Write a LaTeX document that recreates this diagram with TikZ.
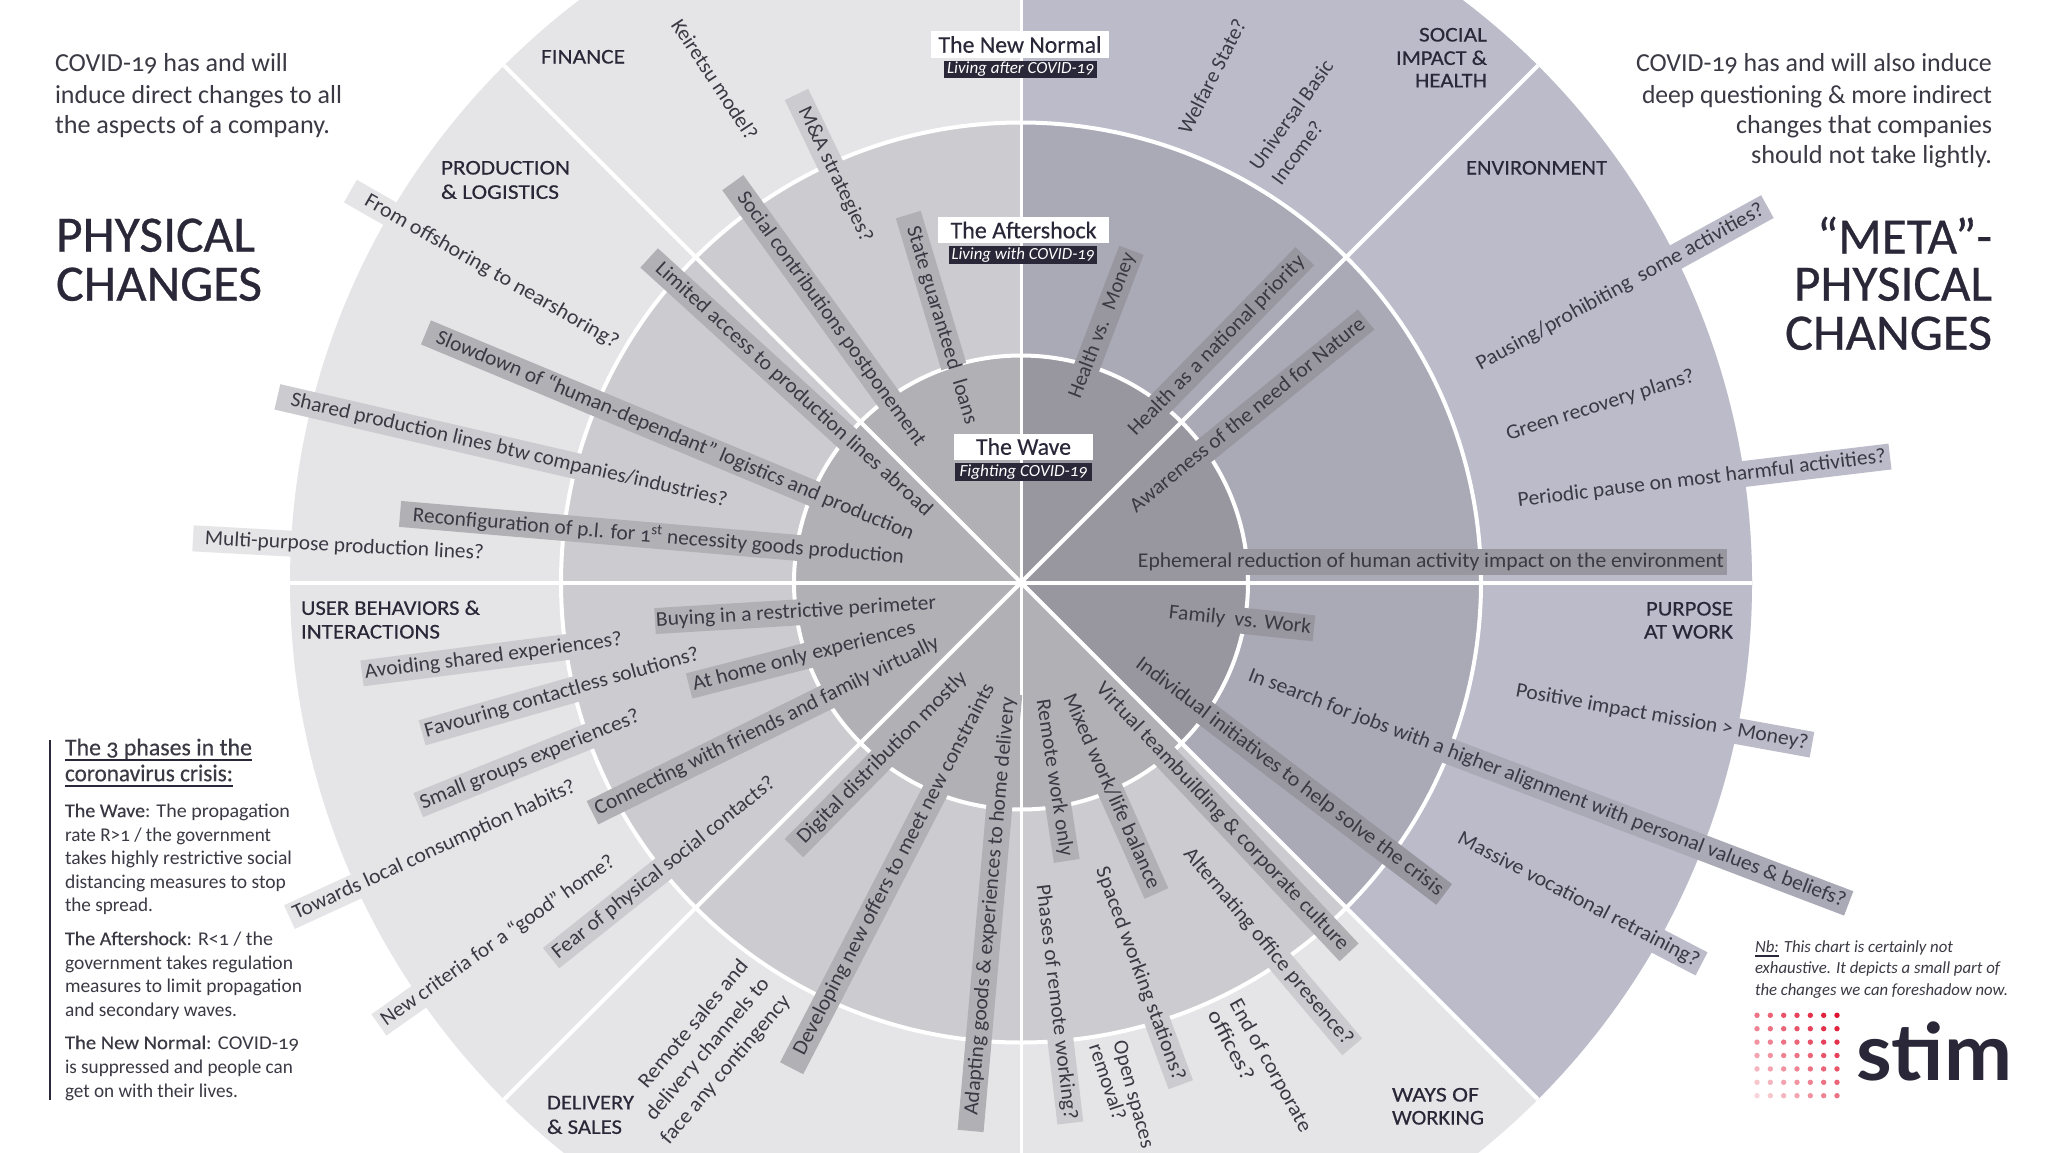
\documentclass[tikz,border=0pt]{standalone}
\usepackage{graphicx}
\usepackage{fontspec}
\setmainfont[Numbers=OldStyle]{Carlito}
\newfontfamily\medfont[Numbers=OldStyle,FakeBold=0.35]{Carlito}
\newfontfamily\bigfont[Numbers=OldStyle,FakeBold=0.6]{Carlito}
\newfontfamily\logofont{Lato}
\definecolor{ink}{HTML}{2A2838}
\definecolor{txt}{HTML}{3A3944}
\definecolor{go}{HTML}{E5E5E7}
\definecolor{gm}{HTML}{CCCCD0}
\definecolor{gi}{HTML}{B0B0B5}
\definecolor{po}{HTML}{BCBBCA}
\definecolor{pm}{HTML}{AAA9B6}
\definecolor{pi}{HTML}{98979F}
\definecolor{stimred}{HTML}{E0102F}
\pgfdeclarelayer{txtlayer}
\pgfsetlayers{main,txtlayer}
\tikzset{
  barbox/.style={inner sep=0pt,outer sep=0pt,minimum height=26pt},
  lbl/.style={inner sep=0pt,outer sep=0pt,text=txt,font=\fontsize{21}{21}\selectfont},
  head/.style={inner sep=0pt,outer sep=0pt,yshift=-1.5pt,text=ink,font=\medfont\fontsize{21}{21}\selectfont},
  big/.style={inner sep=0pt,outer sep=0pt,yshift=-3.5pt,text=ink,font=\bigfont\fontsize{51}{51}\selectfont},
  intro/.style={inner sep=0pt,outer sep=0pt,yshift=-2pt,text=txt,font=\fontsize{26}{26}\selectfont},
  body/.style={inner sep=0pt,outer sep=0pt,text=txt,font=\fontsize{19.5}{19.5}\selectfont},
  note/.style={inner sep=0pt,outer sep=0pt,yshift=-1pt,text=txt,font=\itshape\fontsize{17}{17}\selectfont},
  phase/.style={fill=white,text=ink,inner sep=0pt,outer sep=0pt,font=\medfont\fontsize{24}{24}\selectfont},
  sub/.style={fill=ink,text=white,inner sep=0pt,outer sep=0pt,font=\itshape\fontsize{17}{17}\selectfont},
  sep/.style={draw=white,line width=4pt},
}
% name, x1,y1, x2,y2, pad start, pad end, colour, text
\newcommand\lab[9]{%
  \pgfmathsetmacro\lLen{veclen(#4-#2,#5-#3)}%
  \pgfmathsetmacro\lAng{atan2(-(#5-#3),#4-#2)}%
  \pgfmathsetmacro\lBar{\lLen+#6+#7}%
  \pgfmathsetmacro\lBx{(#2+#4)/2+(#7-#6)/2*(#4-#2)/\lLen}%
  \pgfmathsetmacro\lBy{(#3+#5)/2+(#7-#6)/2*(#5-#3)/\lLen}%
  \pgfmathsetmacro\lCx{(#2+#4)/2}%
  \pgfmathsetmacro\lCy{(#3+#5)/2}%
  \node[barbox,fill=#8,minimum width=\lBar pt,rotate=\lAng] (#1-bar) at (\lBx,\lBy) {};%
  \begin{pgfonlayer}{txtlayer}%
  \node[lbl,rotate=\lAng] (#1) at (\lCx,\lCy) {\resizebox{\lLen pt}{\height}{\vphantom{Ag}#9}};%
  \end{pgfonlayer}%
}
% style, name, anchor, x, y, width, text
\newcommand\tx[7]{\node[#1,anchor=#3] (#2) at (#4,#5) {\resizebox{#6pt}{\height}{\vphantom{Ag}#7}};}
\begin{document}
\begin{tikzpicture}[x=1pt,y=-1pt]
\useasboundingbox (0,0) rectangle (2048,1152);
\fill[white] (0,0) rectangle (2048,1152);
\coordinate (c) at (1021,582.5);
\begin{scope}
\clip (0,0) rectangle (2048,1152);
\fill[go] (c) circle[radius=731pt];
\fill[po] (c) -- ++(-45:731pt) arc[start angle=-45,end angle=90,radius=731pt] -- cycle;
\fill[gm] (c) circle[radius=460pt];
\fill[pm] (c) -- ++(-45:460pt) arc[start angle=-45,end angle=90,radius=460pt] -- cycle;
\fill[gi] (c) circle[radius=227pt];
\fill[pi] (c) -- ++(-45:227pt) arc[start angle=-45,end angle=90,radius=227pt] -- cycle;
\draw[sep] (c) circle[radius=227pt];
\draw[sep] (c) circle[radius=460pt];
\foreach \a in {0,45,135,180,225,315}{\draw[sep] (c) -- ++(\a:731pt);}
\draw[draw=white,line width=3pt] (c) -- ++(90:731pt);
\draw[draw=white,line width=3pt] (c) -- ++(270:731pt);
\end{scope}

% upper left
\lab{kei}{675}{22}{752}{139}{5}{5}{go}{Keiretsu model?}
\lab{ma}{803}{108}{867}{241}{15}{2}{gm}{M\&A strategies?}
\lab{soc}{741}{194}{921}{444}{14}{-52}{gi}{Social contributions postponement}
\lab{state}{912}{227}{971}{424}{13}{-60}{gi}{State guaranteed\hspace{0.3em} loans}
\lab{lim}{658}{266}{929}{513}{12}{4}{gi}{Limited access to production lines abroad}
\lab{slow}{437}{337}{913}{535}{12}{4}{gi}{Slowdown of “human-dependant” logistics and production}
\lab{shared}{291}{400}{727}{501}{14}{3}{gm}{Shared production lines btw companies/industries?}
\lab{recon}{413}{515}{904}{557}{13}{4}{gi}{Reconfiguration of p.l. for 1\textsuperscript{st} necessity goods production}
\lab{multi}{205}{539}{484}{554}{12}{3}{go}{Multi-purpose production lines?}
\lab{off}{366}{200}{617}{344}{18}{3}{go}{From offshoring to nearshoring?}

% upper right
\lab{welf}{1185}{133}{1242}{21}{3}{3}{none}{Welfare State?}
\lab{ubi}{1255}{168}{1330}{63}{3}{3}{none}{Universal Basic}
\lab{ubb}{1277}{183}{1320}{124}{3}{3}{none}{Income?}
\lab{hm}{1075}{398}{1130}{254}{3}{4}{pi}{Health vs.\hspace{0.3em} Money}
\lab{hn}{1132}{433}{1302}{259}{3}{4}{pi}{Health as a national priority}
\lab{aw}{1133}{509}{1363}{322}{3}{4}{pi}{Awareness of the need for Nature}
\lab{eph}{1138}{562}{1724}{562}{4}{3}{pi}{Ephemeral reduction of human activity impact on the environment}
\lab{paus}{1478}{366}{1763}{209}{3}{5}{po}{Pausing/prohibiting\hspace{0.2em} some activities?}
\lab{green}{1507}{435}{1694}{376}{3}{4}{po}{Green recovery plans?}
\lab{per}{1518}{501}{1886}{457}{3}{4}{po}{Periodic pause on most harmful activities?}

% lower right
\lab{fam}{1169}{613}{1311}{628}{3}{3}{pi}{Family\hspace{0.2em} vs. Work}
\lab{search}{1249}{675}{1845}{902}{3}{4}{pm}{In search for jobs with a higher alignment with personal values \& beliefs?}
\lab{ind}{1138}{662}{1441}{892}{3}{4}{pi}{Individual initiatives to help solve the crisis}
\lab{pos}{1516}{691}{1808}{744}{3}{4}{po}{Positive impact mission > Money?}
\lab{mass}{1459}{838}{1698}{962}{3}{4}{po}{Massive vocational retraining?}
\lab{virt}{1099}{686}{1345}{948}{3}{6}{gi}{Virtual teambuilding \& corporate culture}
\lab{mix}{1068}{695}{1154}{888}{3}{6}{gi}{Mixed work/life balance}
\lab{rem}{1042}{700}{1066}{856}{3}{5}{gi}{Remote work only}
\lab{phas}{1042}{885}{1070}{1120}{3}{3}{gm}{Phases of remote working?}
\lab{spac}{1101}{868}{1179}{1080}{3}{5}{gm}{Spaced working stations?}
\lab{alt}{1187}{851}{1349}{1043}{3}{5}{gm}{Alternating office presence?}
\lab{endc}{1234}{1001}{1306}{1131}{3}{3}{none}{End of corporate}
\lab{endo}{1212}{1012}{1248}{1080}{3}{3}{none}{offices?}
\lab{opena}{1118}{1041}{1147}{1148}{3}{3}{none}{Open spaces}
\lab{openb}{1094}{1045}{1119}{1120}{3}{3}{none}{removal?}

% lower left
\lab{buy}{656}{621}{936}{604}{1}{3}{gi}{Buying in a restrictive perimeter}
\lab{avo}{365}{673}{622}{640}{3}{3}{gm}{Avoiding shared experiences?}
\lab{fav}{425}{732}{699}{654}{3}{3}{gm}{Favouring contactless solutions?}
\lab{home}{693}{685}{915}{628}{4}{3}{gi}{At home only experiences}
\lab{small}{421}{804}{639}{716}{3}{3}{gm}{Small groups experiences?}
\lab{conn}{596}{811}{938}{642}{4}{3}{gi}{Connecting with friends and family virtually}
\lab{tow}{294}{915}{575}{786}{5}{3}{go}{Towards local consumption habits?}
\lab{fear}{555}{955}{773}{781}{5}{3}{gm}{Fear of physical social contacts?}
\lab{crit}{383}{1022}{613}{860}{5}{3}{go}{New criteria for a “good” home?}
\lab{dig}{801}{841}{964}{675}{10}{3}{gi}{Digital distribution mostly}
\lab{dev}{799}{1054}{990}{685}{16}{3}{gi}{Developing new offers to meet new constraints}
\lab{ada}{972}{1115}{1009}{697}{16}{3}{gi}{Adapting goods \& experiences to home delivery}
\lab{rsa}{643}{1086}{745}{963}{3}{3}{none}{Remote sales and}
\lab{rsb}{650}{1118}{766}{981}{3}{3}{none}{delivery channels to}
\lab{rsc}{665}{1142}{787}{998}{3}{3}{none}{face any contingency}

% sector titles
\tx{head}{sfin}{west}{541}{57}{84}{FINANCE}
\tx{head}{spa}{west}{441}{168}{129}{PRODUCTION}
\tx{head}{spb}{west}{441}{192}{118}{\& LOGISTICS}
\tx{head}{ssa}{east}{1487}{35}{68}{SOCIAL}
\tx{head}{ssb}{east}{1487}{58}{91}{IMPACT \&}
\tx{head}{ssc}{east}{1487}{81}{72}{HEALTH}
\tx{head}{senv}{west}{1466}{168}{141}{ENVIRONMENT}
\tx{head}{spua}{east}{1733}{609}{87}{PURPOSE}
\tx{head}{spub}{east}{1733}{632}{89}{AT WORK}
\tx{head}{sua}{west}{301}{608}{179}{USER BEHAVIORS \&}
\tx{head}{sub}{west}{301}{632}{139}{INTERACTIONS}
\tx{head}{sda}{west}{547}{1103}{87}{DELIVERY}
\tx{head}{sdb}{west}{547}{1127}{75}{\& SALES}
\tx{head}{swa}{west}{1392}{1095}{87}{WAYS OF}
\tx{head}{swb}{west}{1392}{1118}{92}{WORKING}

% phase tags
\node[phase,minimum width=178pt,minimum height=27pt] (pn) at (1020,44.5) {\resizebox{163pt}{\height}{The New Normal}};
\node[sub,minimum width=153pt,minimum height=17pt] (pns) at (1020.5,69.5) {\resizebox{147pt}{\height}{Living after COVID-19}};
\node[phase,minimum width=171pt,minimum height=26pt] (pa) at (1023.5,230) {\resizebox{146pt}{\height}{The Aftershock}};
\node[sub,minimum width=148pt,minimum height=18pt] (pas) at (1023,255) {\resizebox{143pt}{\height}{Living with COVID-19}};
\node[phase,minimum width=139pt,minimum height=26pt] (pw) at (1023.5,446.5) {\resizebox{95pt}{\height}{The Wave}};
\node[sub,minimum width=137pt,minimum height=18pt] (pws) at (1023.5,472) {\resizebox{128pt}{\height}{Fighting COVID-19}};

% left heading
\tx{intro}{ila}{west}{55}{63}{233}{COVID-19 has and will}
\tx{intro}{ilb}{west}{55}{95}{287}{induce direct changes to all}
\tx{intro}{ilc}{west}{55}{125}{275}{the aspects of a company.}
\tx{big}{ba}{west}{56}{236}{199}{PHYSICAL}
\tx{big}{bb}{west}{56}{285}{206}{CHANGES}
% right heading
\tx{intro}{ira}{east}{1992}{63}{356}{COVID-19 has and will also induce}
\tx{intro}{irb}{east}{1992}{95}{350}{deep questioning \& more indirect}
\tx{intro}{irc}{east}{1992}{125}{256}{changes that companies}
\tx{intro}{ird}{east}{1992}{155}{241}{should not take lightly.}
\tx{big}{bra}{east}{1992}{236}{175}{“META”-}
\tx{big}{brb}{east}{1992}{285}{198}{PHYSICAL}
\tx{big}{brc}{east}{1992}{334}{207}{CHANGES}

% phases panel
\draw[draw=ink,line width=2pt] (50,740) -- (50,1100);
\tx{body,font=\medfont\fontsize{24}{24}\selectfont}{pt1}{west}{65}{749}{187}{The 3 phases in the}
\tx{body,font=\medfont\fontsize{24}{24}\selectfont}{pt2}{west}{65}{775}{168}{coronavirus crisis:}
\draw[draw=ink,line width=1.3pt] (65,760) -- (252,760) (65,786) -- (233,786);
\tx{body}{wa}{west}{65}{812}{225}{{\medfont The Wave}: The propagation}
\tx{body}{wb}{west}{65}{836}{206}{rate R>1 / the government}
\tx{body}{wc}{west}{65}{859}{227}{takes highly restrictive social}
\tx{body}{wd}{west}{65}{883}{221}{distancing measures to stop}
\tx{body}{we}{west}{65}{906}{88}{the spread.}
\tx{body}{aa}{west}{65}{940}{208}{{\medfont The Aftershock}: R<1 / the}
\tx{body}{ab}{west}{65}{964}{228}{government takes regulation}
\tx{body}{ac}{west}{65}{987}{237}{measures to limit propagation}
\tx{body}{ad}{west}{65}{1011}{172}{and secondary waves.}
\tx{body}{na}{west}{65}{1044}{234}{{\medfont The New Normal}: COVID-19}
\tx{body}{nb}{west}{65}{1068}{228}{is suppressed and people can}
\tx{body}{nc}{west}{65}{1092}{173}{get on with their lives.}

% note
\tx{note}{nba}{west}{1755}{947}{198}{Nb: This chart is certainly not}
\tx{note}{nbb}{west}{1755}{968}{245}{exhaustive. It depicts a small part of}
\tx{note}{nbc}{west}{1755}{990}{253}{the changes we can foreshadow now.}
\draw[draw=ink,line width=1.2pt] (1755,956) -- (1779,956);

% logo
\foreach \i in {0,...,6}{\foreach \j in {0,...,6}{
  \pgfmathtruncatemacro\pc{18+(\i+\j)*82/12}
  \fill[stimred!\pc!white] ({1757+13.33*\i},{1095.7-13.4*\j}) circle[radius=2.7pt];
}}
\node[inner sep=0pt,outer sep=0pt,anchor=base west,text=ink,font=\logofont\bfseries\fontsize{79}{79}\selectfont] (logo) at (1856,1080) {\resizebox{156pt}{\height}{stim}};
\end{tikzpicture}
\end{document}
